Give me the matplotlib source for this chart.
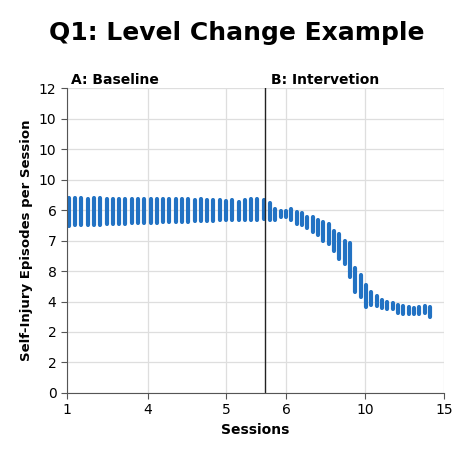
import matplotlib.pyplot as plt
import numpy as np

# tick positions/labels as printed on the original chart
x_tick_pos = [0, 81, 159, 219, 298, 377]
x_tick_labels = ['1', '4', '5', '6', '10', '15']
y_tick_labels = ['0', '2', '2', '4', '8', '7', '6', '10', '10', '10', '12']
phase_line = 198

# range bars: top and bottom of each session bar (axis units)
tops = [6.39, 6.38, 6.38, 6.37, 6.38, 6.38, 6.37, 6.36, 6.37, 6.36, 6.36, 6.35, 6.35, 6.36,
        6.36, 6.35, 6.36, 6.36, 6.35, 6.35, 6.34, 6.35, 6.33, 6.34, 6.33, 6.30, 6.32, 6.28,
        6.33, 6.35, 6.36, 6.34, 6.24, 6.02, 5.98, 5.98, 6.02, 5.95, 5.89, 5.78, 5.76, 5.69,
        5.62, 5.53, 5.32, 5.21, 4.99, 4.91, 4.09, 3.87, 3.54, 3.32, 3.18, 3.05, 3.00, 2.96,
        2.89, 2.85, 2.83, 2.78, 2.83, 2.85, 2.83]
bottoms = [5.48, 5.50, 5.51, 5.51, 5.52, 5.52, 5.53, 5.54, 5.55, 5.55, 5.56, 5.57, 5.58, 5.58,
           5.59, 5.60, 5.60, 5.61, 5.62, 5.62, 5.63, 5.64, 5.65, 5.65, 5.66, 5.67, 5.67, 5.68,
           5.68, 5.69, 5.69, 5.70, 5.69, 5.69, 5.76, 5.76, 5.67, 5.53, 5.51, 5.40, 5.29, 5.18,
           4.99, 4.89, 4.67, 4.38, 4.23, 3.81, 3.32, 3.16, 2.83, 2.87, 2.84, 2.80, 2.75, 2.77,
           2.61, 2.59, 2.59, 2.58, 2.59, 2.61, 2.48]
# bar positions: baseline sessions are spaced wider than intervention sessions
x = np.concatenate([2 + 6.28 * np.arange(32), 203 + 5.33 * np.arange(len(tops) - 32)])

fig = plt.figure(figsize=(4.74, 4.74), dpi=100)
ax = fig.add_axes([0.141, 0.171, 0.796, 0.643])
ax.vlines(x, bottoms, tops, color='#2272c3', linewidth=3.0, capstyle='round')
ax.axvline(phase_line, color='#222222', linewidth=1.0)

ax.set_xlim(0, 377)
ax.set_ylim(0, 10)
ax.set_xticks(x_tick_pos, x_tick_labels)
ax.set_yticks(range(11), y_tick_labels)
ax.tick_params(labelsize=10, length=4, color='#555555')
ax.grid(True, color='#dedede', linewidth=0.9)
ax.set_axisbelow(True)
for s in ['top', 'right']:
    ax.spines[s].set_visible(False)
for s in ['left', 'bottom']:
    ax.spines[s].set_color('#555555')

ax.set_xlabel('Sessions', fontsize=10, fontweight='bold')
ax.set_ylabel('Self-Injury Episodes per Session', fontsize=9.5, fontweight='bold')
ax.text(4, 10.05, 'A: Baseline', fontsize=10, fontweight='bold', va='bottom')
ax.text(204, 10.05, 'B: Intervetion', fontsize=10, fontweight='bold', va='bottom')
fig.suptitle('Q1: Level Change Example', fontsize=18, fontweight='bold', y=0.955)

fig.savefig('out.png', dpi=100)
